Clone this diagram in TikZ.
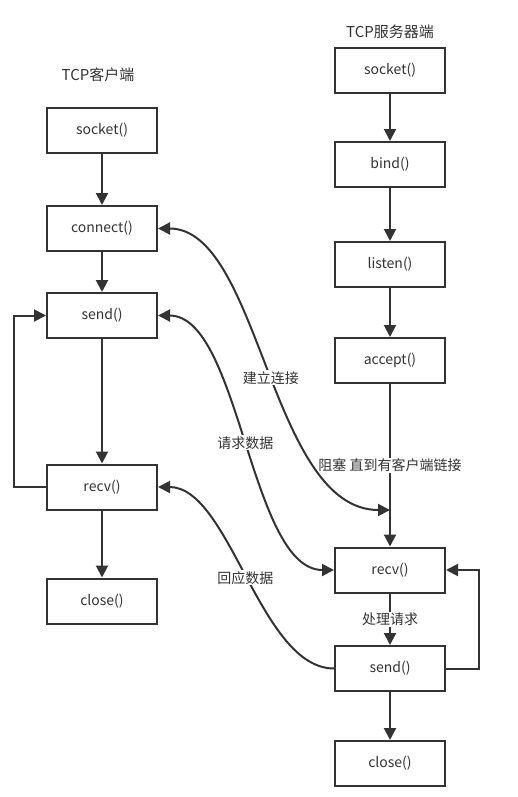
\documentclass[tikz,border=0pt]{standalone}
\usepackage{fontspec}
\setmainfont{Noto Sans CJK SC}
\usetikzlibrary{arrows.meta}

\definecolor{ink}{HTML}{333333}

\tikzstyle{func} = [rectangle, minimum width=110pt, minimum height=45pt, text centered, draw=ink, line width=2pt, fill=none, text=ink, font=\fontsize{14}{16}\selectfont]
\tikzstyle{title} = [text=ink, font=\fontsize{15}{17}\selectfont]
\tikzstyle{tag} = [fill=white, inner sep=1pt, text=ink, font=\fontsize{14}{16}\selectfont]
\tikzstyle{arrow} = [draw=ink, line width=2pt, ->, >={Triangle[length=12pt,width=12pt]}]
\tikzstyle{twoway} = [draw=ink, line width=2pt, <->, >={Triangle[length=12pt,width=12pt]}]

\begin{document}
\begin{tikzpicture}[x=1pt, y=-1pt]
        \useasboundingbox (0,0) rectangle (517,797);

        \node (Client Title) [title] at (98,75) {TCP客户端};
        \node (Server Title) [title] at (390,32) {TCP服务器端};

        \node (Client Socket) [func] at (102,130.5) {socket()};
        \node (Client Connect) [func] at (102,228.5) {connect()};
        \node (Client Send) [func] at (102,315.5) {send()};
        \node (Client Recv) [func] at (102,487) {recv()};
        \node (Client Close) [func] at (102,601) {close()};

        \node (Server Socket) [func] at (390,70.5) {socket()};
        \node (Server Bind) [func] at (390,164.5) {bind()};
        \node (Server Listen) [func] at (390,264.5) {listen()};
        \node (Server Accept) [func] at (390,360.5) {accept()};
        \node (Server Recv) [func] at (390,570) {recv()};
        \node (Server Send) [func] at (390,668.5) {send()};
        \node (Server Close) [func] at (390,763.5) {close()};

        \coordinate (Joint) at (390,510);

        \draw [arrow] (Client Socket) -- (Client Connect);
        \draw [arrow] (Client Connect) -- (Client Send);
        \draw [arrow] (Client Send) -- (Client Recv);
        \draw [arrow] (Client Recv) -- (Client Close);
        \draw [arrow] (Client Recv.west) -- ++(-32,0) |- (Client Send.west);

        \draw [arrow] (Server Socket) -- (Server Bind);
        \draw [arrow] (Server Bind) -- (Server Listen);
        \draw [arrow] (Server Listen) -- (Server Accept);
        \draw [arrow] (Server Accept) -- node [tag] {阻塞 直到有客户端链接} (Server Recv);
        \draw [arrow] (Server Recv) -- node [tag] {处理请求} (Server Send);
        \draw [arrow] (Server Send) -- (Server Close);
        \draw [arrow] (Server Send.east) -- ++(33,0) |- (Server Recv.east);

        \draw [twoway] (Client Connect.east) .. controls (260,228.5) and (270,510) .. node [tag, pos=0.52] {建立连接} (Joint);
        \draw [twoway] (Client Send.east) .. controls (240,315.5) and (250,570) .. node [tag] {请求数据} (Server Recv.west);
        \draw [arrow] (Server Send.west) .. controls (260,668.5) and (230,487) .. node [tag] {回应数据} (Client Recv.east);
    \end{tikzpicture}
\end{document}
